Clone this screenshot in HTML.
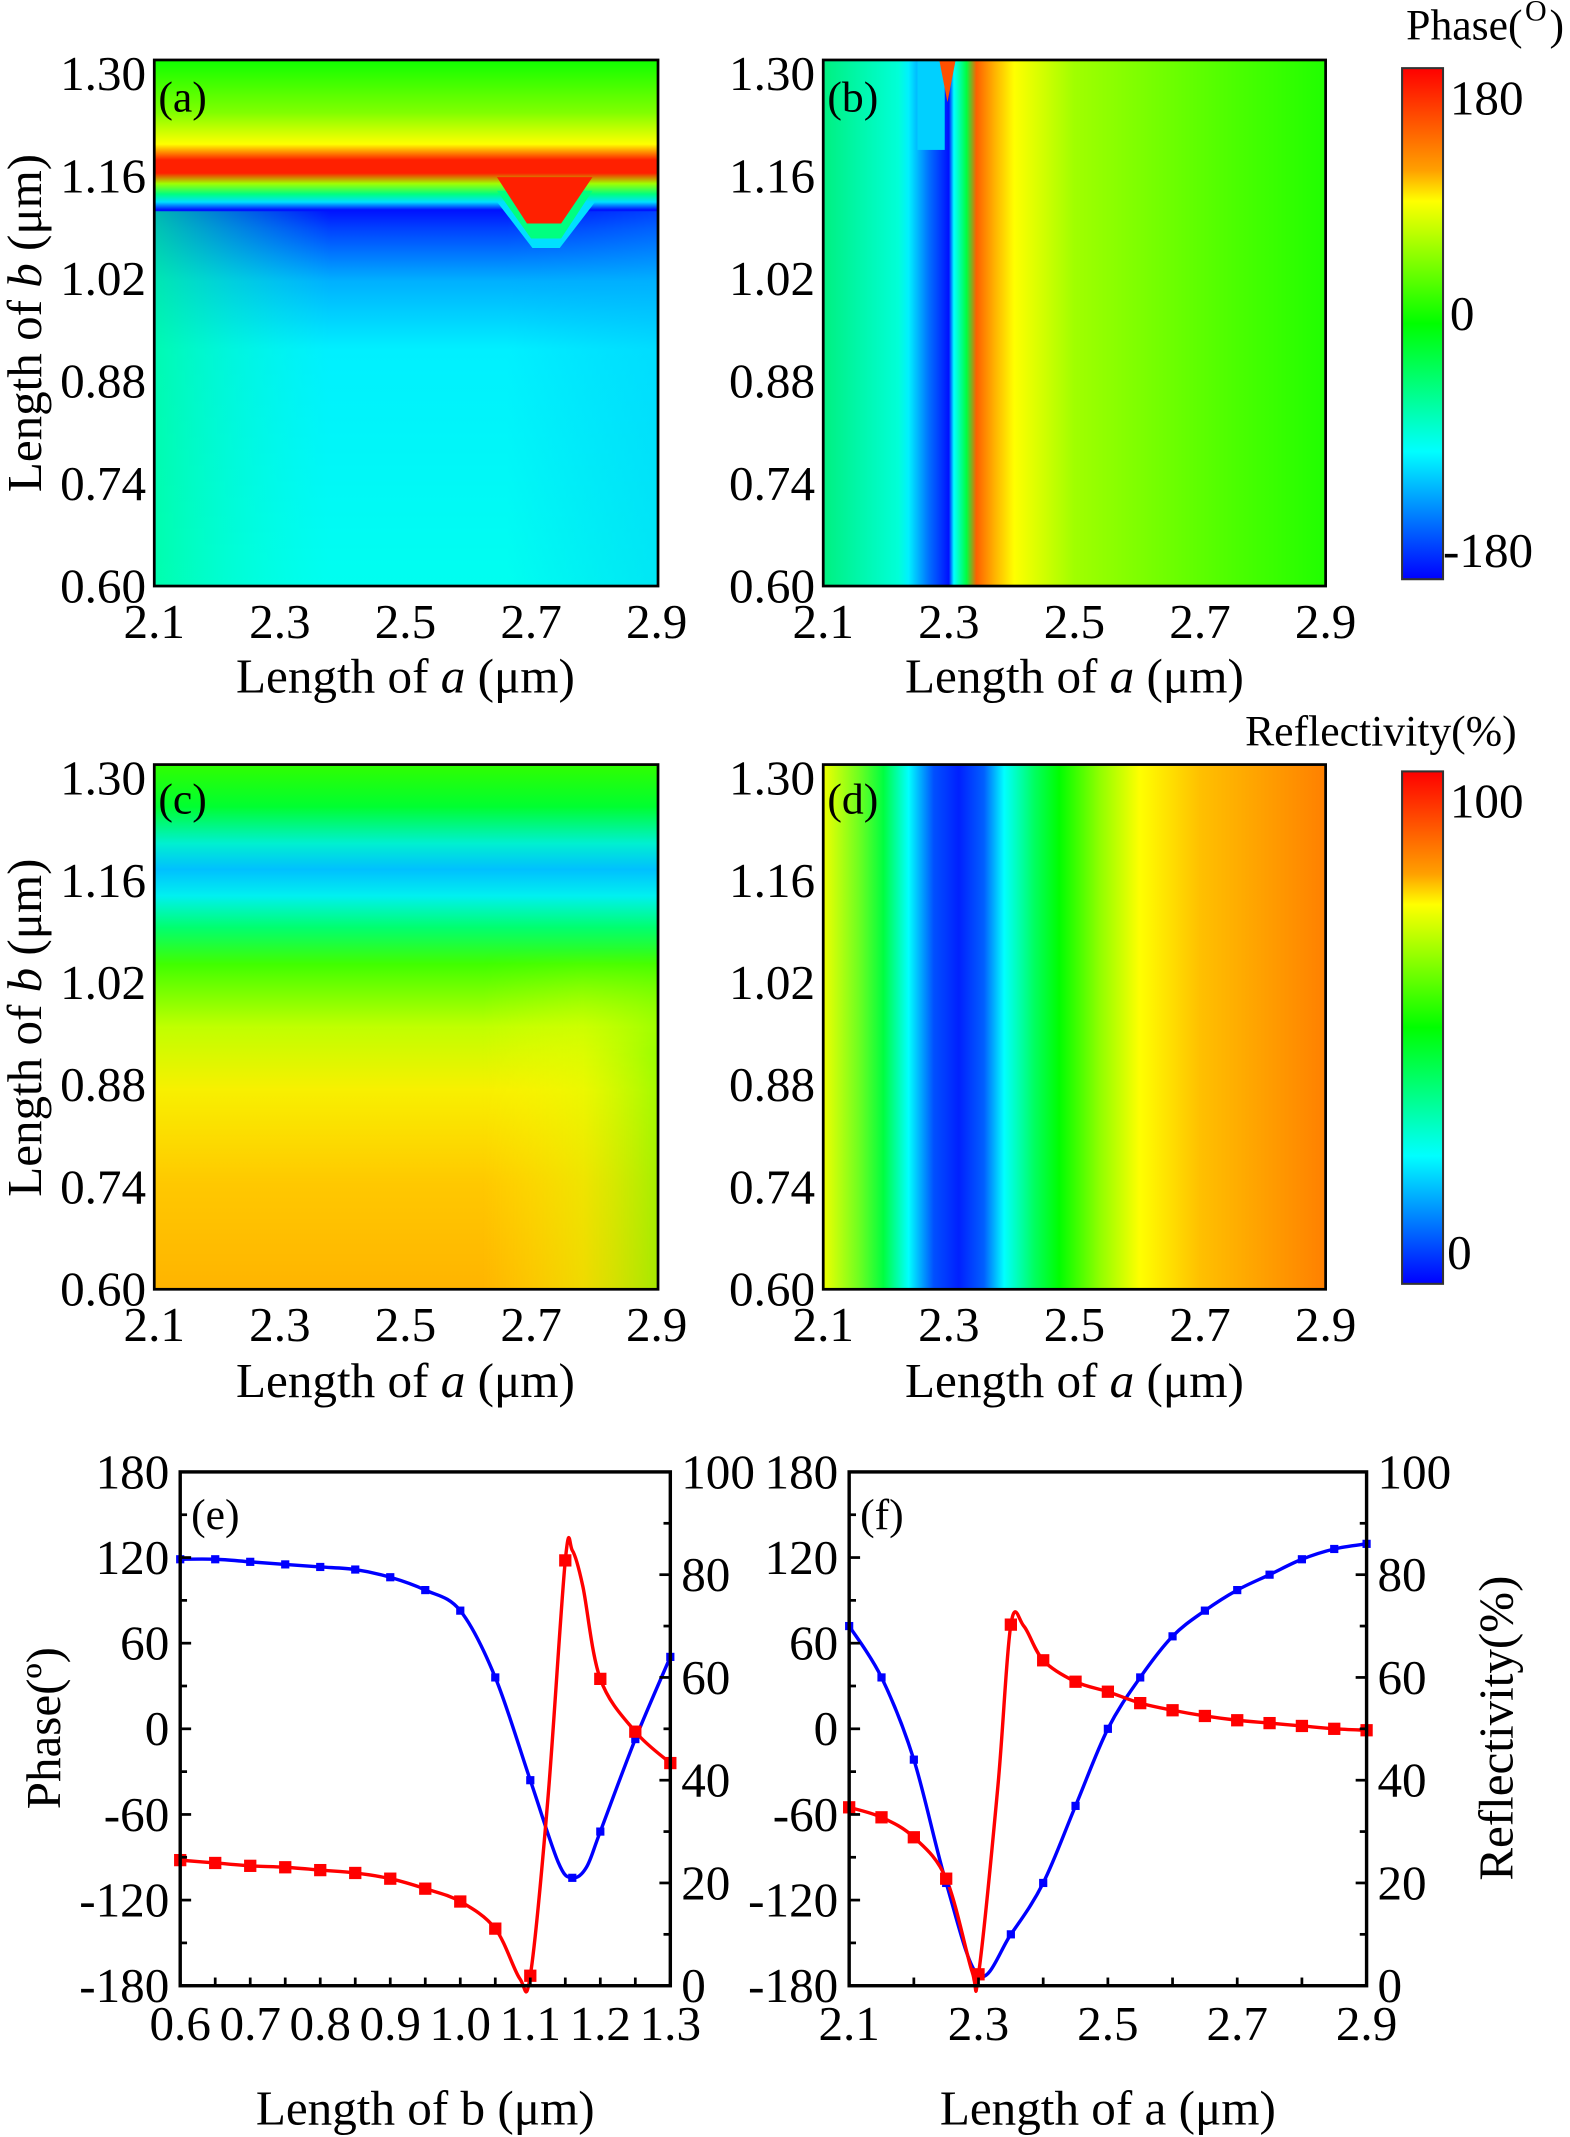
<!DOCTYPE html>
<html><head><meta charset="utf-8">
<style>html,body{margin:0;padding:0;background:#fff}svg{display:block}
text{font-family:"Liberation Serif","Times New Roman",serif;fill:#000}</style></head>
<body>
<svg id="s" width="1570" height="2137" viewBox="0 0 1150 1568" preserveAspectRatio="none" xmlns="http://www.w3.org/2000/svg" font-family="Liberation Serif, serif">
<defs>
<linearGradient id="ga" x1="0" y1="0" x2="0" y2="1">
<stop offset="0" stop-color="#10ff00"/><stop offset="0.1" stop-color="#80ff00"/><stop offset="0.16" stop-color="#ffff00"/>
<stop offset="0.19" stop-color="#ff2000"/><stop offset="0.215" stop-color="#ff2000"/><stop offset="0.235" stop-color="#a0ff00"/>
<stop offset="0.255" stop-color="#00ff80"/><stop offset="0.27" stop-color="#00e0ff"/><stop offset="0.285" stop-color="#0010ff"/>
<stop offset="0.32" stop-color="#0040ff"/><stop offset="0.42" stop-color="#00b0ff"/><stop offset="0.55" stop-color="#00f0ff"/><stop offset="1" stop-color="#00fff0"/>
</linearGradient>
<linearGradient id="gaL" x1="0" y1="0" x2="1" y2="0">
<stop offset="0" stop-color="#00ff90" stop-opacity="0.7"/><stop offset="0.35" stop-color="#00ffcc" stop-opacity="0"/>
<stop offset="0.7" stop-color="#00a0ff" stop-opacity="0"/><stop offset="1" stop-color="#00b0ff" stop-opacity="0.3"/>
</linearGradient>
<linearGradient id="gb" x1="0" y1="0" x2="1" y2="0">
<stop offset="0" stop-color="#00f080"/><stop offset="0.15" stop-color="#00ffd8"/><stop offset="0.17" stop-color="#00f0ff"/>
<stop offset="0.21" stop-color="#0070ff"/><stop offset="0.25" stop-color="#0010ff"/><stop offset="0.26" stop-color="#00ffff"/>
<stop offset="0.285" stop-color="#00ff40"/><stop offset="0.305" stop-color="#ff6000"/><stop offset="0.34" stop-color="#ffb000"/>
<stop offset="0.38" stop-color="#ffff00"/><stop offset="0.5" stop-color="#a0ff00"/><stop offset="0.8" stop-color="#50ff00"/><stop offset="1" stop-color="#20ff00"/>
</linearGradient>
<linearGradient id="gc" x1="0" y1="0" x2="0" y2="1">
<stop offset="0" stop-color="#30ff00"/><stop offset="0.08" stop-color="#00ff30"/><stop offset="0.15" stop-color="#00f0d0"/>
<stop offset="0.2" stop-color="#00c0ff"/><stop offset="0.25" stop-color="#00f0f0"/><stop offset="0.31" stop-color="#00ff70"/>
<stop offset="0.38" stop-color="#40ff00"/><stop offset="0.5" stop-color="#c0ff00"/><stop offset="0.62" stop-color="#f8f000"/>
<stop offset="0.8" stop-color="#ffc800"/><stop offset="1" stop-color="#ffb400"/>
</linearGradient>
<linearGradient id="gcR" x1="0" y1="0" x2="1" y2="0">
<stop offset="0" stop-color="#ffff00" stop-opacity="0"/><stop offset="0.65" stop-color="#ffff00" stop-opacity="0"/>
<stop offset="0.85" stop-color="#e0ff00" stop-opacity="0.5"/><stop offset="1" stop-color="#80ff00" stop-opacity="0.7"/>
</linearGradient>
<linearGradient id="gcV" x1="0" y1="0" x2="0" y2="1">
<stop offset="0" stop-color="#fff" stop-opacity="0"/><stop offset="0.35" stop-color="#fff" stop-opacity="0"/><stop offset="0.55" stop-color="#fff" stop-opacity="1"/><stop offset="1" stop-color="#fff" stop-opacity="1"/>
</linearGradient>
<mask id="mc"><rect x="113" y="561" width="369" height="385" fill="url(#gcV)"/></mask>
<linearGradient id="gd" x1="0" y1="0" x2="1" y2="0">
<stop offset="0" stop-color="#f0ff00"/><stop offset="0.07" stop-color="#70ff20"/><stop offset="0.12" stop-color="#00ff40"/>
<stop offset="0.17" stop-color="#00ffff"/><stop offset="0.22" stop-color="#0050ff"/><stop offset="0.27" stop-color="#0020ff"/>
<stop offset="0.32" stop-color="#0060ff"/><stop offset="0.36" stop-color="#00ffff"/><stop offset="0.42" stop-color="#00ff60"/>
<stop offset="0.47" stop-color="#00ff00"/><stop offset="0.55" stop-color="#90ff00"/><stop offset="0.63" stop-color="#ffff00"/>
<stop offset="0.75" stop-color="#ffc000"/><stop offset="1" stop-color="#ff8000"/>
</linearGradient>
<linearGradient id="gbar" x1="0" y1="0" x2="0" y2="1">
<stop offset="0" stop-color="#ff0000"/><stop offset="0.2" stop-color="#ffa000"/><stop offset="0.26" stop-color="#ffff00"/>
<stop offset="0.5" stop-color="#00ff00"/><stop offset="0.75" stop-color="#00ffff"/><stop offset="1" stop-color="#0000ff"/>
</linearGradient>
</defs>

<!-- (a) -->
<rect x="113" y="44" width="369" height="386" fill="url(#ga)"/>
<rect x="113" y="155" width="369" height="275" fill="url(#gaL)"/>
<polygon points="364,148 390,182 410,182 436,148" fill="#00e0ff"/>
<polygon points="364,140 389,175 411,175 434,140" fill="#00ff80"/>
<polygon points="364,130 434,130 411,164 386,164" fill="#ff2000"/>
<rect x="113" y="44" width="369" height="386" fill="none" stroke="#000" stroke-width="2"/>
<text x="116" y="82" font-size="32">(a)</text>

<!-- (b) -->
<rect x="603" y="44" width="368" height="386" fill="url(#gb)"/>
<rect x="672" y="44" width="20" height="66" fill="#00d0ff"/>
<polygon points="688,44 700,44 694,75" fill="#ff5000"/>
<rect x="603" y="44" width="368" height="386" fill="none" stroke="#000" stroke-width="2"/>
<text x="606" y="82" font-size="32">(b)</text>

<!-- (c) -->
<rect x="113" y="561" width="369" height="385" fill="url(#gc)"/>
<rect x="113" y="561" width="369" height="385" fill="url(#gcR)" mask="url(#mc)"/>
<rect x="113" y="561" width="369" height="385" fill="none" stroke="#000" stroke-width="2"/>
<text x="116" y="597" font-size="32">(c)</text>

<!-- (d) -->
<rect x="603" y="561" width="368" height="385" fill="url(#gd)"/>
<rect x="603" y="561" width="368" height="385" fill="none" stroke="#000" stroke-width="2"/>
<text x="606" y="597" font-size="32">(d)</text>

<!-- colorbars -->
<rect x="1027" y="50" width="30" height="375" fill="url(#gbar)" stroke="#333" stroke-width="1.5"/>
<text x="1062" y="84" font-size="36">180</text>
<text x="1062" y="242" font-size="36">0</text>
<text x="1057" y="416" font-size="36">-180</text>
<text x="1030" y="29" font-size="32">Phase(</text><text x="1117" y="15" font-size="22">O</text><text x="1135" y="29" font-size="32">)</text>
<rect x="1027" y="566" width="30" height="376" fill="url(#gbar)" stroke="#333" stroke-width="1.5"/>
<text x="1062" y="600" font-size="36">100</text>
<text x="1060" y="931" font-size="36">0</text>
<text x="912" y="547" font-size="32">Reflectivity(%)</text>

<g id="hm" font-size="36" text-anchor="end"></g>
<g id="plots"></g>
</svg>
<script>
(function(){
var NS="http://www.w3.org/2000/svg";
function el(p,tag,a,txt){var e=document.createElementNS(NS,tag);for(var k in a)e.setAttribute(k,a[k]);if(txt!==undefined)e.textContent=txt;p.appendChild(e);return e;}
var hm=document.getElementById('hm');
var yl=['1.30','1.16','1.02','0.88','0.74','0.60'];
[[113,44,430],[603,44,430],[113,561,946],[603,561,946]].forEach(function(p){
  for(var i=0;i<6;i++){var y=p[1]+10+i*(p[2]-p[1]-10)/5;el(hm,'text',{x:p[0]-6,y:y+12},yl[i]);}
  var xl=['2.1','2.3','2.5','2.7','2.9'];
  for(var j=0;j<5;j++){el(hm,'text',{x:p[0]+j*92,y:p[2]+38,'text-anchor':'middle'},xl[j]);}
});
[[297,508],[787,508],[297,1025],[787,1025]].forEach(function(c){
  var t=el(hm,'text',{x:c[0],y:c[1],'text-anchor':'middle'});
  var a=document.createElementNS(NS,'tspan');a.textContent='Length of ';t.appendChild(a);
  var b=document.createElementNS(NS,'tspan');b.setAttribute('font-style','italic');b.textContent='a';t.appendChild(b);
  var d=document.createElementNS(NS,'tspan');d.textContent=' (\u03bcm)';t.appendChild(d);
});
[[30,237],[30,754]].forEach(function(c){
  var t=el(hm,'text',{x:0,y:0,'text-anchor':'middle',transform:'translate('+c[0]+','+c[1]+') rotate(-90)'});
  var a=document.createElementNS(NS,'tspan');a.textContent='Length of ';t.appendChild(a);
  var b=document.createElementNS(NS,'tspan');b.setAttribute('font-style','italic');b.textContent='b';t.appendChild(b);
  var d=document.createElementNS(NS,'tspan');d.textContent=' (\u03bcm)';t.appendChild(d);
});

var P=document.getElementById('plots');
var T=1080,B=1457;
function py(p){return T+(180-p)/360*(B-T);}
function ry(r){return B-r/100*(B-T);}
function smooth(pts){var d='M'+pts[0][0]+','+pts[0][1];
  for(var i=0;i<pts.length-1;i++){var p0=pts[i-1]||pts[i],p1=pts[i],p2=pts[i+1],p3=pts[i+2]||p2;
    d+=' C'+(p1[0]+(p2[0]-p0[0])/6)+','+(p1[1]+(p2[1]-p0[1])/6)+' '+(p2[0]-(p3[0]-p1[0])/6)+','+(p2[1]-(p3[1]-p1[1])/6)+' '+p2[0]+','+p2[1];}
  return d;}
function panel(L,R,x0,x1,xlabels,xl2,minorStep,red,blue,lab){
  function X(v){return L+(v-x0)/(x1-x0)*(R-L);}
  var rp=red.map(function(d){return [X(d[0]),py(d[1])];});
  var bp=blue.map(function(d){return [X(d[0]),ry(d[1])];});
  el(P,'path',{d:smooth(bp),fill:'none',stroke:'#0000ff','stroke-width':2.5});
  el(P,'path',{d:smooth(rp),fill:'none',stroke:'#ff0000','stroke-width':2.5});
  blue.forEach(function(d){if(d[2])el(P,'rect',{x:X(d[0])-3,y:ry(d[1])-3,width:6,height:6,fill:'#0000ff'});});
  red.forEach(function(d){if(d[2])el(P,'rect',{x:X(d[0])-4.5,y:py(d[1])-4.5,width:9,height:9,fill:'#ff0000'});});
  el(P,'rect',{x:L,y:T,width:R-L,height:B-T,fill:'none',stroke:'#000','stroke-width':2.5});
  for(var p=-180;p<=180;p+=30){var y=py(p),len=(p%60==0)?8:5;el(P,'line',{x1:L,x2:L+len,y1:y,y2:y,stroke:'#000','stroke-width':2});
    if(p%60==0)el(P,'text',{x:L-8,y:y+12,'font-size':36,'text-anchor':'end'},String(p));}
  for(var r=0;r<=100;r+=10){var y2=ry(r),l2=(r%20==0)?8:5;el(P,'line',{x1:R,x2:R-l2,y1:y2,y2:y2,stroke:'#000','stroke-width':2});
    if(r%20==0)el(P,'text',{x:R+8,y:y2+12,'font-size':36},String(r));}
  for(var v=x0;v<=x1+1e-6;v+=minorStep){var xx=X(v);el(P,'line',{x1:xx,x2:xx,y1:B,y2:B-6,stroke:'#000','stroke-width':2});}
  xlabels.forEach(function(s){el(P,'text',{x:X(parseFloat(s)),y:B+40,'font-size':36,'text-anchor':'middle'},s);});
  el(P,'text',{x:L+8,y:T+42,'font-size':32},lab);
  el(P,'text',{x:(L+R)/2,y:1559,'font-size':36,'text-anchor':'middle'},xl2);
}
var redE=[[0.6,-92,1],[0.65,-94,1],[0.7,-96,1],[0.75,-97,1],[0.8,-99,1],[0.85,-101,1],[0.9,-105,1],[0.95,-112,1],[1.0,-121,1],[1.05,-140,1],[1.085,-175,0],[1.1,-173,1],[1.125,-50,0],[1.15,118,1],[1.16,125,0],[1.175,100,0],[1.2,35,1],[1.25,-2,1],[1.3,-24,1]];
var blueE=[[0.6,83,1],[0.65,83,1],[0.7,82.5,1],[0.75,82,1],[0.8,81.5,1],[0.85,81,1],[0.9,79.5,1],[0.95,77,1],[1.0,73,1],[1.05,60,1],[1.1,40,1],[1.14,24,0],[1.16,21,1],[1.18,23,0],[1.2,30,1],[1.25,48,1],[1.3,64,1]];
panel(132,491,0.6,1.3,['0.6','0.7','0.8','0.9','1.0','1.1','1.2','1.3'],'Length of b (\u03bcm)',0.05,redE,blueE,'(e)');
var redF=[[2.1,-55,1],[2.15,-62,1],[2.2,-76,1],[2.25,-105,1],[2.29,-170,0],[2.3,-172,1],[2.33,-40,0],[2.35,73,1],[2.37,72,0],[2.4,48,1],[2.45,33,1],[2.5,26,1],[2.55,18,1],[2.6,13,1],[2.65,9,1],[2.7,6,1],[2.75,4,1],[2.8,2,1],[2.85,0,1],[2.9,-1,1]];
var blueF=[[2.1,70,1],[2.15,60,1],[2.2,44,1],[2.25,20,1],[2.3,2,1],[2.35,10,1],[2.4,20,1],[2.45,35,1],[2.5,50,1],[2.55,60,1],[2.6,68,1],[2.65,73,1],[2.7,77,1],[2.75,80,1],[2.8,83,1],[2.85,85,1],[2.9,86,1]];
panel(622,1001,2.1,2.9,['2.1','2.3','2.5','2.7','2.9'],'Length of a (\u03bcm)',0.1,redF,blueF,'(f)');
var s=document.getElementById('s');
function t(x,y,txt){var e=document.createElementNS(NS,'text');e.setAttribute('font-size','36');e.setAttribute('text-anchor','middle');e.setAttribute('transform','translate('+x+','+y+') rotate(-90)');e.textContent=txt;s.appendChild(e);}
t(44,1268,'Phase(\u00ba)');t(1108,1268,'Reflectivity(%)');
})();
</script>
</body></html>
